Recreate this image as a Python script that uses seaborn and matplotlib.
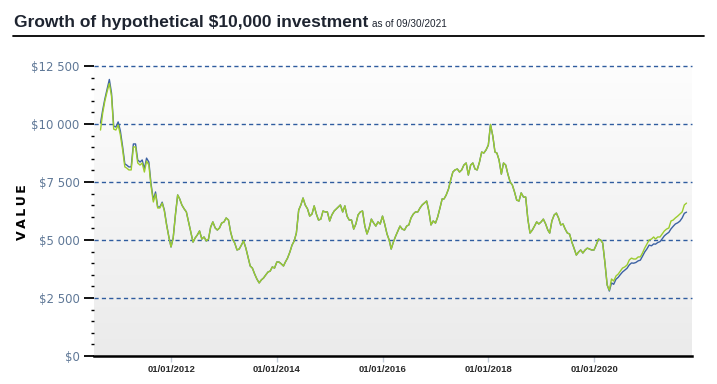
import matplotlib
matplotlib.use("Agg")
import numpy as np
import pandas as pd
import seaborn as sns
import matplotlib.pyplot as plt
import matplotlib.dates as mdates
import matplotlib.ticker as mticker
from matplotlib.colors import LinearSegmentedColormap
from matplotlib.lines import Line2D

# ---------------- data (semi-monthly values) ----------------
START_DATE = "2010-08-31"
END_DATE = "2021-09-30"

green_values = [
    9740, 10470, 10990, 11380, 11750, 11200, 9780, 9740, 9960, 9530,
    8880, 8150, 8100, 8020, 8020, 9010, 9010, 8320, 8230, 8320,
    7930, 8400, 8230, 7330, 6640, 6980, 6380, 6380, 6590, 6250,
    5650, 5170, 4700, 5090, 6120, 6940, 6770, 6510, 6340, 6210,
    5780, 5340, 4910, 5090, 5220, 5390, 5040, 5130, 4960, 5040,
    5560, 5780, 5520, 5430, 5520, 5730, 5780, 5950, 5860, 5340,
    5040, 4870, 4570, 4610, 4780, 4960, 4650, 4270, 3880, 3790,
    3530, 3320, 3150, 3280, 3360, 3490, 3620, 3660, 3840, 3790,
    4050, 4050, 3970, 3880, 4050, 4220, 4480, 4780, 4960, 5300,
    6290, 6510, 6810, 6510, 6340, 6030, 6120, 6470, 6120, 5860,
    5900, 6250, 6210, 6210, 5820, 6080, 6250, 6340, 6420, 6510,
    6210, 6470, 6030, 5860, 5860, 5470, 5690, 6080, 6210, 6250,
    5600, 5260, 5520, 5900, 5730, 5600, 5780, 5690, 6030, 5690,
    5260, 5000, 4610, 4910, 5170, 5390, 5600, 5470, 5430, 5600,
    5650, 5950, 6120, 6210, 6210, 6380, 6510, 6590, 6680, 6250,
    5650, 5820, 5730, 5990, 6380, 6770, 6770, 6940, 7200, 7590,
    7930, 8020, 8060, 7930, 8020, 8230, 8320, 7800, 8230, 8320,
    8060, 8020, 8360, 8790, 8750, 8880, 9090, 9980, 9480, 8790,
    8750, 8450, 7840, 8320, 8230, 7840, 7500, 7370, 7070, 6720,
    6680, 7030, 6850, 6850, 5900, 5300, 5430, 5600, 5780, 5690,
    5780, 5900, 5690, 5430, 5300, 5820, 6080, 6160, 5950, 5650,
    5690, 5470, 5300, 5260, 4910, 4650, 4350, 4480, 4570, 4440,
    4570, 4650, 4610, 4570, 4570, 4780, 5040, 5000, 4870, 4050,
    3060, 2840, 3320, 3230, 3450, 3530, 3660, 3790, 3840, 3920,
    4140, 4220, 4180, 4180, 4270, 4270, 4440, 4650, 4830, 5000,
    5040, 5130, 5040, 5130, 5130, 5260, 5390, 5470, 5520, 5820,
    5860, 5950, 6030, 6120, 6210, 6510, 6590,
]

blue_values = [
    10040, 10600, 11080, 11490, 11920, 11330, 9910, 9870, 10090, 9700,
    9010, 8280, 8230, 8150, 8150, 9140, 9140, 8450, 8360, 8450,
    8060, 8530, 8360, 7420, 6730, 7070, 6420, 6420, 6630, 6290,
    5690, 5170, 4700, 5090, 6120, 6940, 6770, 6510, 6340, 6210,
    5780, 5340, 4910, 5090, 5220, 5390, 5040, 5130, 4960, 5040,
    5560, 5780, 5520, 5430, 5520, 5730, 5780, 5950, 5860, 5340,
    5040, 4870, 4570, 4610, 4780, 4960, 4650, 4270, 3880, 3790,
    3530, 3320, 3150, 3280, 3360, 3490, 3620, 3660, 3840, 3790,
    4050, 4050, 3970, 3880, 4050, 4220, 4480, 4780, 4960, 5300,
    6290, 6510, 6810, 6510, 6340, 6030, 6120, 6470, 6120, 5860,
    5900, 6250, 6210, 6210, 5820, 6080, 6250, 6340, 6420, 6510,
    6210, 6470, 6030, 5860, 5860, 5470, 5690, 6080, 6210, 6250,
    5600, 5260, 5520, 5900, 5730, 5600, 5780, 5690, 6030, 5690,
    5260, 5000, 4610, 4910, 5170, 5390, 5600, 5470, 5430, 5600,
    5650, 5950, 6120, 6210, 6210, 6380, 6510, 6590, 6680, 6250,
    5650, 5820, 5730, 5990, 6380, 6770, 6770, 6940, 7200, 7590,
    7930, 8020, 8060, 7930, 8020, 8230, 8320, 7800, 8230, 8320,
    8060, 8020, 8360, 8790, 8750, 8880, 9090, 9980, 9480, 8790,
    8750, 8450, 7840, 8320, 8230, 7840, 7500, 7370, 7070, 6720,
    6680, 7030, 6850, 6850, 5900, 5300, 5430, 5600, 5780, 5690,
    5780, 5900, 5690, 5430, 5300, 5820, 6080, 6160, 5950, 5650,
    5690, 5470, 5300, 5260, 4910, 4650, 4350, 4480, 4570, 4440,
    4570, 4650, 4610, 4570, 4570, 4780, 5040, 5000, 4870, 4050,
    3060, 2800, 3150, 3090, 3310, 3390, 3510, 3620, 3700, 3780,
    3930, 4010, 4000, 4030, 4100, 4130, 4300, 4480, 4620, 4780,
    4750, 4830, 4820, 4890, 4930, 5050, 5180, 5260, 5330, 5480,
    5590, 5690, 5740, 5810, 5950, 6150, 6200,
]

series_names = ["Benchmark", "Fund"]          # draw order: blue first, green on top
series_colors = ["#3d62a3", "#9ccc2e"]
x_tick_dates = ["2012-01-01", "2014-01-01", "2016-01-01", "2018-01-01", "2020-01-01"]
y_ticks = [0, 2500, 5000, 7500, 10000, 12500]

title_text = "Growth of hypothetical $10,000 investment"
subtitle_text = "as of 09/30/2021"
y_label_text = "V\u2009A\u2009L\u2009U\u2009E"

# ---------------- build table ----------------
try:
    dates = pd.date_range(START_DATE, END_DATE, freq="SME")
except Exception:
    dates = pd.date_range(START_DATE, END_DATE, freq="SM")
n = min(len(dates), len(green_values), len(blue_values))
wide = pd.DataFrame({
    "date": dates[:n],
    series_names[0]: blue_values[:n],
    series_names[1]: green_values[:n],
})
long = wide.melt(id_vars="date", var_name="series", value_name="value")

# ---------------- figure ----------------
sns.set_style("white")
plt.rcParams["font.family"] = ["DejaVu Sans"]

W, H = 717, 384
fig = plt.figure(figsize=(W / 100, H / 100), dpi=100)

ax_left, ax_right, ax_top, ax_bottom = 94, 692, 66, 356
rect = [ax_left / W, 1 - ax_bottom / H, (ax_right - ax_left) / W, (ax_bottom - ax_top) / H]

# gradient background
bg = fig.add_axes(rect, zorder=0)
grad = np.linspace(0, 1, 256).reshape(-1, 1)
cmap = LinearSegmentedColormap.from_list("bg", ["#fdfdfd", "#ebebeb"])
bg.imshow(grad, aspect="auto", cmap=cmap, extent=[0, 1, 0, 1], origin="upper")
bg.set_axis_off()

ax = fig.add_axes(rect, zorder=1)
ax.set_facecolor("none")

sns.lineplot(
    data=long, x="date", y="value", hue="series",
    hue_order=series_names, palette=dict(zip(series_names, series_colors)),
    linewidth=1.0, legend=False, ax=ax,
)

ax.set_xlim(pd.Timestamp("2010-07-17"), pd.Timestamp("2021-11-07"))
ax.set_ylim(0, 12500)

# y axis
ax.yaxis.set_major_locator(mticker.FixedLocator(y_ticks))
ax.yaxis.set_minor_locator(mticker.MultipleLocator(500))
ax.yaxis.set_major_formatter(mticker.FuncFormatter(lambda v, p: "$" + f"{v:,.0f}".replace(",", " ")))
ax.tick_params(axis="y", which="major", left=True, length=7.5, width=1.3, color="black",
               labelsize=8.5, labelcolor="#5f7897", pad=3)
ax.tick_params(axis="y", which="minor", left=True, length=2.3, width=1, color="black")

# x axis
ax.xaxis.set_major_locator(mticker.FixedLocator([mdates.date2num(pd.Timestamp(d)) for d in x_tick_dates]))
ax.xaxis.set_major_formatter(mdates.DateFormatter("%m/%d/%Y"))
ax.tick_params(axis="x", which="major", bottom=True, length=4.5, width=1, color="#c3ccd8",
               labelsize=6.8, labelcolor="#2a2a2a", pad=2)
for lbl in ax.get_xticklabels():
    lbl.set_fontweight("bold")
    lbl.set_family(["Liberation Sans", "DejaVu Sans"])

# grid
for yv in y_ticks[1:]:
    ax.axhline(yv, color="#2f5c9f", linewidth=1.0, linestyle=(0, (3, 2.3)), zorder=0.5, clip_on=False)

for s in ["top", "right", "left"]:
    ax.spines[s].set_visible(False)
ax.spines["bottom"].set_color("black")
ax.spines["bottom"].set_linewidth(1.8)

ax.set_xlabel("")
ax.set_ylabel("")

fig.text(23 / W, 1 - 212 / H, y_label_text, rotation=90, fontsize=9, fontweight="bold",
         color="black", ha="center", va="center")

# title
t1 = fig.text(14 / W, 1 - 27 / H, title_text, fontsize=12.5, fontweight="bold",
              family=["Liberation Sans", "DejaVu Sans"], color="#1e2430", va="baseline")
fig.canvas.draw()
bb = t1.get_window_extent(renderer=fig.canvas.get_renderer())
fig.text((bb.x1 + 4) / W, 1 - 27 / H, subtitle_text, fontsize=7.2,
         family=["Liberation Sans", "DejaVu Sans"], color="#1e2430", va="baseline")
fig.add_artist(Line2D([13 / W, 704 / W], [1 - 35.5 / H, 1 - 35.5 / H], color="black", linewidth=1.3))

fig.savefig("out.png", dpi=100)
